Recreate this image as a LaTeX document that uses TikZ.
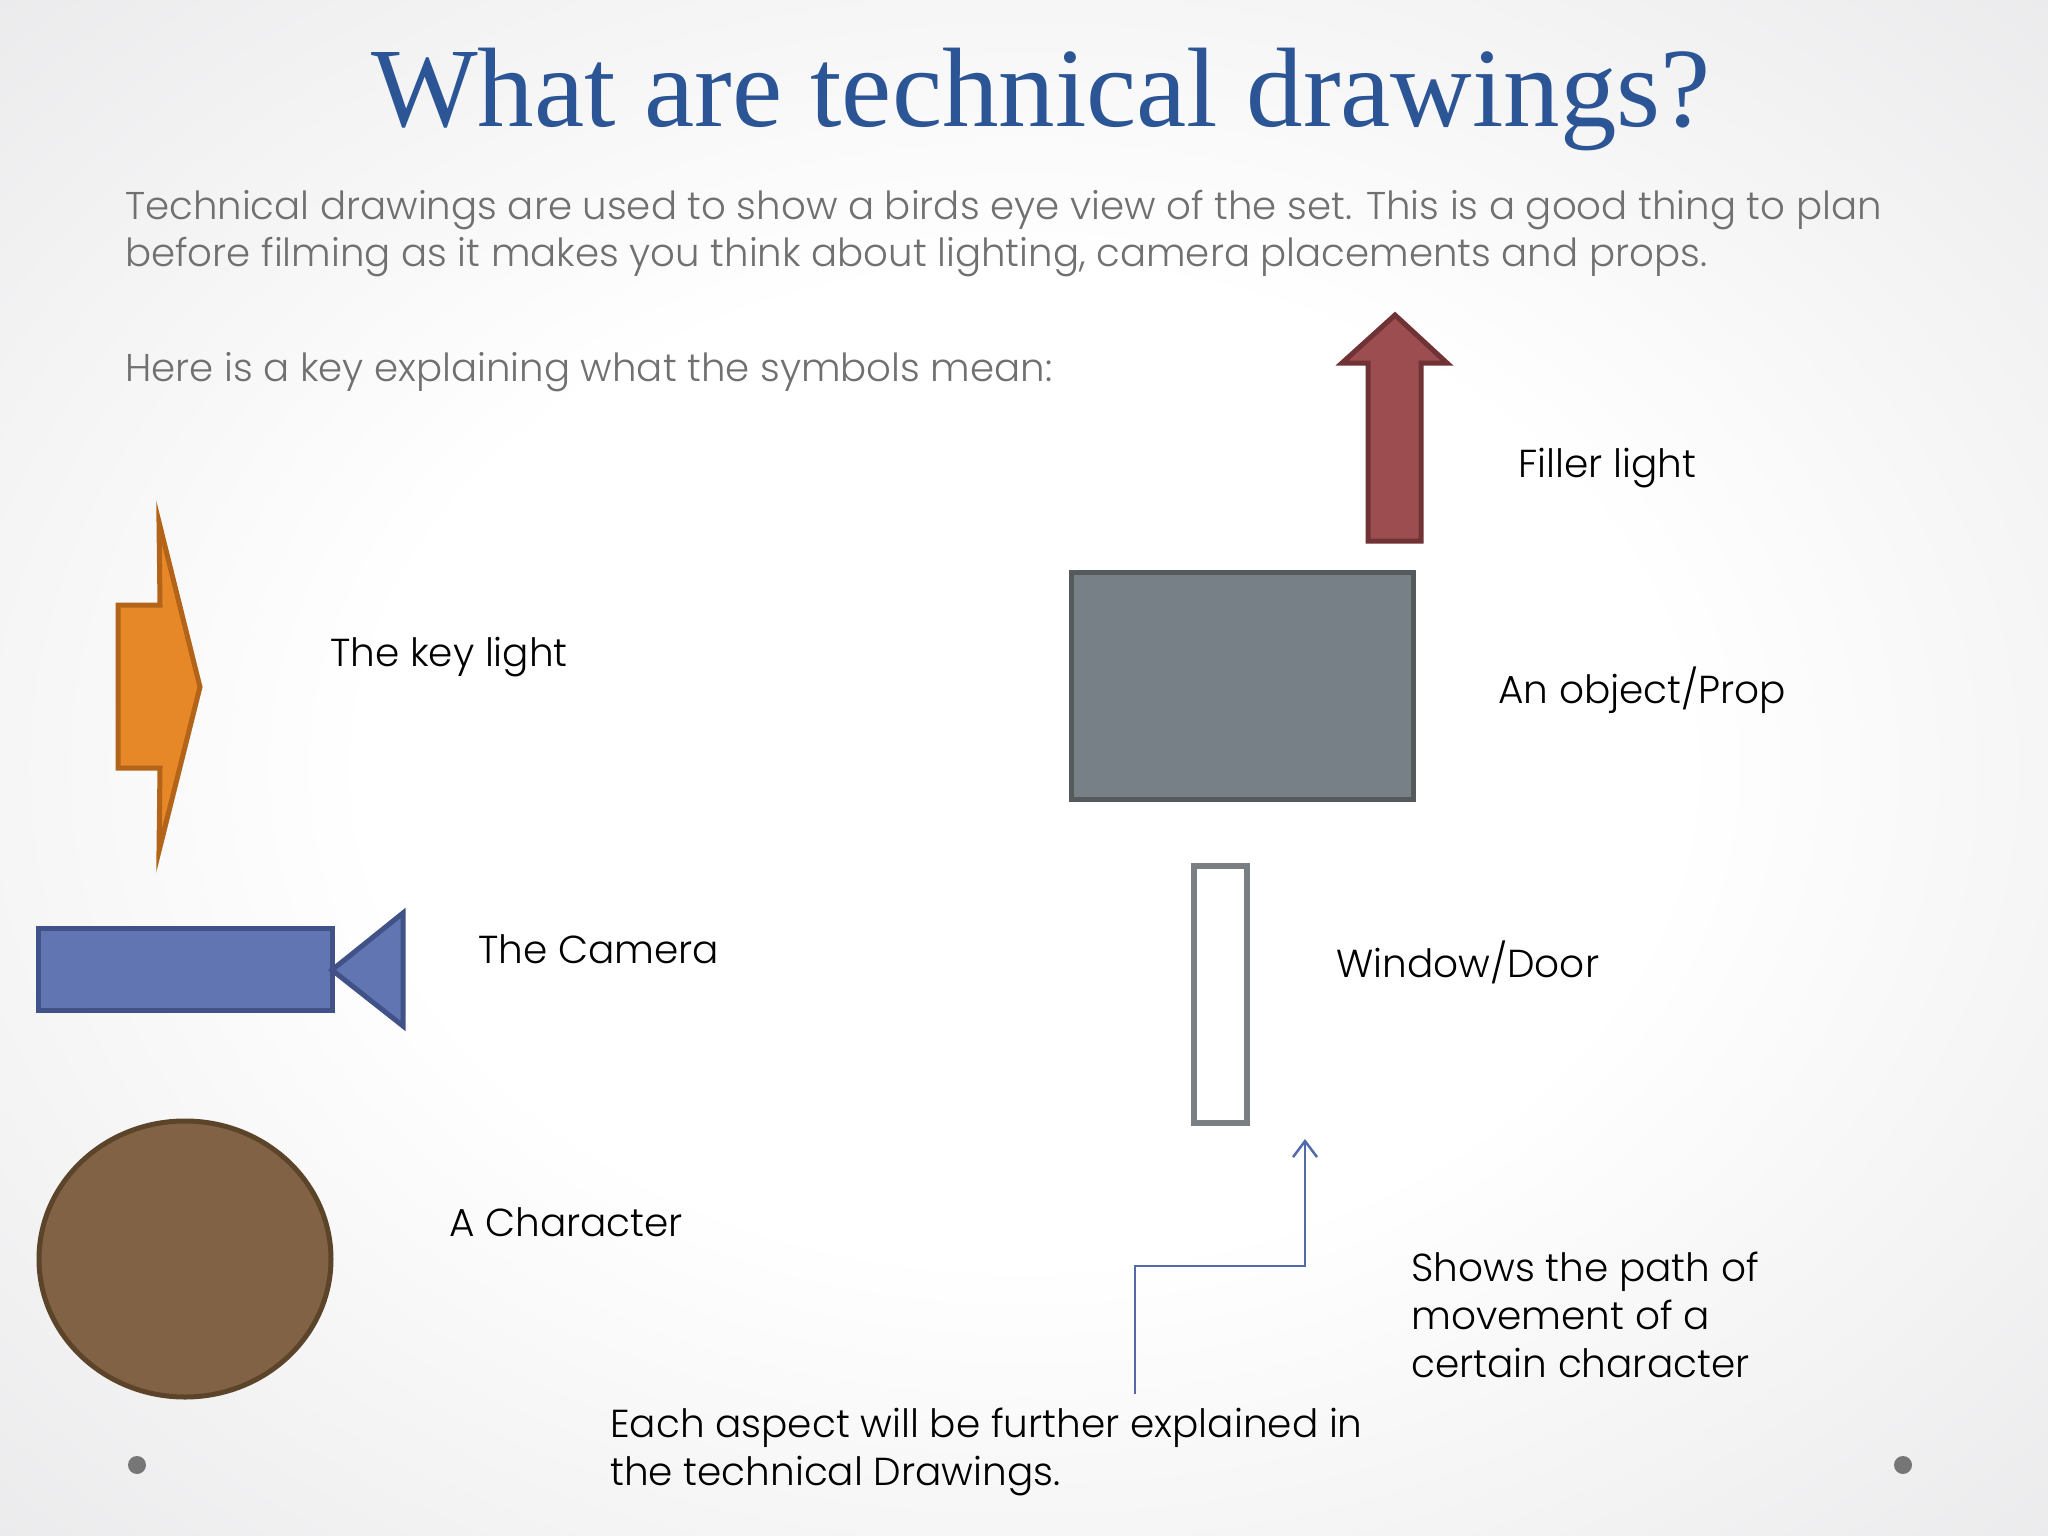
\documentclass[tikz,border=0pt]{standalone}
\usepackage{fontspec}
\setmainfont{Poppins}[UprightFont={* Light}]
\newfontfamily\titlefont{Liberation Serif}
\usetikzlibrary{arrows.meta}
\definecolor{bgout}{RGB}{218,218,221}
\definecolor{titleblue}{RGB}{44,85,150}
\definecolor{paragray}{RGB}{112,112,112}
\definecolor{keyfill}{RGB}{230,135,40}
\definecolor{keydraw}{RGB}{180,100,25}
\definecolor{camfill}{RGB}{96,117,178}
\definecolor{camdraw}{RGB}{64,82,135}
\definecolor{filfill}{RGB}{155,77,80}
\definecolor{fildraw}{RGB}{112,50,52}
\definecolor{objfill}{RGB}{120,128,135}
\definecolor{objdraw}{RGB}{85,90,92}
\definecolor{windraw}{RGB}{122,127,131}
\definecolor{pathblue}{RGB}{82,106,170}
\definecolor{charfill}{RGB}{130,98,68}
\definecolor{chardraw}{RGB}{92,68,42}
\definecolor{dotgray}{RGB}{118,118,118}
\pgfdeclareradialshading{bgshade}{\pgfpoint{0bp}{0bp}}{color(0bp)=(white); color(16bp)=(white); color(52bp)=(bgout); color(75bp)=(bgout)}
\tikzset{
  para/.style={anchor=base west, inner sep=0pt, text=paragray, font=\fontsize{38.7}{47}\selectfont, align=left},
  label/.style={anchor=base west, inner sep=0pt, text=black, font=\fontsize{39}{48}\selectfont, align=left},
  shapeline/.style={line width=5pt, line join=miter},
}
\begin{document}
\begin{tikzpicture}[x=1pt,y=-1pt]
\useasboundingbox (0,0) rectangle (2048,1536);
\shade[shading=bgshade] (0,0) rectangle (2048,1536);

% title
\node[anchor=base, inner sep=0pt, text=titleblue, font=\titlefont\fontsize{113}{120}\selectfont] (title) at (1041,127) {What are technical drawings?};

% paragraph (base anchor = last line baseline)
\node[para] (intro) at (125,266) {Technical drawings are used to show a birds eye view of the set. This is a good thing to plan\\before filming as it makes you think about lighting, camera placements and props.};
\node[para] (keyintro) at (125,381) {Here is a key explaining what the symbols mean:};

% key light
\draw[shapeline, fill=keyfill, draw=keydraw] (159,522) -- (200,687) -- (159,851) -- (160,768) -- (118,768) -- (118,605) -- (160,605) -- cycle;
\node[label] (keylab) at (330,666) {The key light};

% camera
\draw[shapeline, fill=camfill, draw=camdraw] (38,928) rectangle (332,1010);
\draw[shapeline, fill=camfill, draw=camdraw] (332,970) -- (403,913) -- (403,1026) -- cycle;
\node[label] (camlab) at (478,963) {The Camera};

% character
\draw[shapeline, fill=charfill, draw=chardraw] (185,1259) ellipse [x radius=146, y radius=138];
\node[label] (charlab) at (449,1236) {A Character};

% filler light
\draw[shapeline, fill=filfill, draw=fildraw] (1395,315) -- (1447,363) -- (1421,363) -- (1421,541) -- (1368,541) -- (1368,363) -- (1342,363) -- cycle;
\node[label] (fillab) at (1518,477) {Filler light};

% object
\draw[shapeline, fill=objfill, draw=objdraw] (1071,572) rectangle (1413,799);
\node[label] (objlab) at (1498,703) {An object/Prop};

% window
\draw[line width=6pt, fill=white, draw=windraw] (1194,866) rectangle (1247,1123);
\node[label] (winlab) at (1336,977) {Window/Door};

% movement path
\coordinate (pstart) at (1135,1394);
\coordinate (pbend1) at (1135,1266);
\coordinate (pbend2) at (1305,1266);
\coordinate (pend) at (1305,1139);
\draw[pathblue, line width=2.5pt, -{Straight Barb[length=16pt,width=24pt,line width=2.5pt]}] (pstart) -- (pbend1) -- (pbend2) -- (pend);
\node[label] (pathlab) at (1411,1377) {Shows the path of\\movement of a\\certain character};

\node[label] (notelab) at (610,1485) {Each aspect will be further explained in\\the technical Drawings.};

% dots
\fill[dotgray] (137,1465) circle (9);
\fill[dotgray] (1903,1465) circle (9);
\end{tikzpicture}
\end{document}
